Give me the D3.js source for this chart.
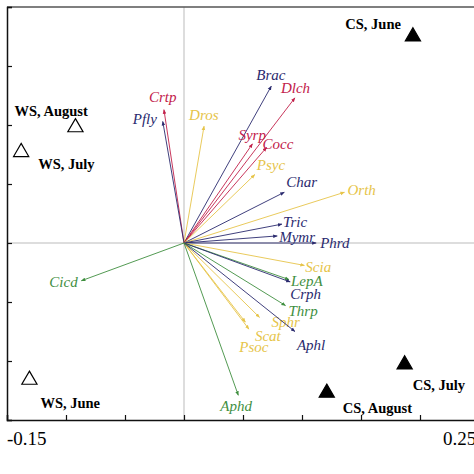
<!DOCTYPE html>
<html><head><meta charset="utf-8">
<script src="https://cdn.jsdelivr.net/npm/d3@7"></script>
<style>body{margin:0;background:#fff}svg{display:block}</style>
</head><body>
<svg id="chart" width="474" height="474"></svg>
<script>
// taxa vectors (axis 1, axis 2)
var taxa = ['Crtp','Pfly','Dros','Brac','Dlch','Syrp','Cocc','Psyc','Char','Orth','Tric','Mymr','Phrd',
  'Scia','LepA','Crph','Thrp','Sphr','Scat','Psoc','Aphl','Aphd','Cicd'];
var ax1 = [-0.017,-0.018,0.017,0.074,0.094,0.058,0.070,0.060,0.085,0.136,0.083,0.079,0.112,
  0.102,0.089,0.090,0.086,0.064,0.055,0.052,0.094,0.046,-0.087];
var ax2 = [0.113,0.103,0.099,0.133,0.123,0.084,0.081,0.058,0.043,0.043,0.016,0.006,0.000,
  -0.019,-0.031,-0.033,-0.053,-0.063,-0.073,-0.067,-0.075,-0.129,-0.032];
var group = ['r','n','y','n','r','r','r','y','n','y','n','n','n','y','g','n','g','y','y','y','n','g','g'];

// sites
var sites = ['CS, June','WS, August','WS, July','WS, June','CS, July','CS, August'];
var siteX = [0.194,-0.092,-0.138,-0.131,0.187,0.121];
var siteY = [0.175,0.098,0.077,-0.116,-0.103,-0.127];
var siteFilled = [true,false,false,false,true,true];

var colors = {n:'#2a2a6e', r:'#c2204a', y:'#e6c449', g:'#3f8f3f'};
var labelOff = {Crtp:[-15,-8],Pfly:[-30,3],Dros:[-15,-6],Brac:[-15,-6],Dlch:[-14,-5],Syrp:[-14,-4],
  Cocc:[-4,2],Psyc:[2,-5],Char:[2,-5],Orth:[3,3],Tric:[1,3],Mymr:[2,6],Phrd:[4,5],Scia:[1,7],
  LepA:[2,6],Crph:[0,17],Thrp:[3,10],Sphr:[12,10],Scat:[6,12],Psoc:[-6,30],Aphl:[2,18],Aphd:[-18,16],Cicd:[-32,6]};
var siteOff = {'CS, June':[-12,-8,'end'],'WS, August':[-61,-11,'start'],'WS, July':[17,17,'start'],
  'WS, June':[11,28,'start'],'CS, July':[8,25,'start'],'CS, August':[16,20,'start']};

var svg = d3.select('#chart');
var x = d3.scaleLinear().domain([-0.15,0.25]).range([7,479]);
var y = d3.scaleLinear().domain([-0.15,0.2]).range([420,7]);

svg.append('defs').selectAll('marker').data(Object.keys(colors)).join('marker')
  .attr('id', function (d) { return 'ah' + d; })
  .attr('viewBox','0 0 10 10').attr('refX',9).attr('refY',5)
  .attr('markerWidth',5).attr('markerHeight',5).attr('orient','auto')
  .append('path').attr('d','M0,1L10,5L0,9z').attr('fill', function (d) { return colors[d]; });

// zero lines
svg.append('line').attr('x1',x(0)).attr('x2',x(0)).attr('y1',7).attr('y2',420).attr('stroke','#bbb');
svg.append('line').attr('x1',7).attr('x2',474).attr('y1',y(0)).attr('y2',y(0)).attr('stroke','#bbb');

// frame
svg.append('line').attr('x1',7).attr('x2',474).attr('y1',7).attr('y2',7).attr('stroke','#555').attr('stroke-width',1.5);
svg.append('g').attr('transform','translate(0,420)')
  .call(d3.axisBottom(x).tickValues(d3.range(-0.15,0.251,0.05)).tickSize(-5).tickFormat(''))
  .call(function (g) { g.select('.domain').attr('stroke','#111').attr('stroke-width',1.5); });
svg.append('g').attr('transform','translate(7,0)')
  .call(d3.axisLeft(y).tickValues(d3.range(-0.15,0.201,0.05)).tickSize(-5).tickFormat(''))
  .call(function (g) { g.select('.domain').attr('stroke','#111').attr('stroke-width',1.5); });
svg.selectAll('.tick line').attr('stroke','#111').attr('stroke-width',1.2);

svg.append('text').attr('x',7).attr('y',445).attr('font-family','Liberation Serif').attr('font-size',19).text('-0.15');
svg.append('text').attr('x',443).attr('y',445).attr('font-family','Liberation Serif').attr('font-size',19).text('0.25');

// arrows
var arr = svg.append('g');
taxa.forEach(function (t, i) {
  arr.append('line').attr('x1',x(0)).attr('y1',y(0)).attr('x2',x(ax1[i])).attr('y2',y(ax2[i]))
    .attr('stroke',colors[group[i]]).attr('stroke-width',0.9)
    .attr('marker-end','url(#ah' + group[i] + ')');
  arr.append('text').attr('x',x(ax1[i]) + labelOff[t][0]).attr('y',y(ax2[i]) + labelOff[t][1])
    .attr('font-family','Liberation Serif').attr('font-style','italic').attr('font-size',15)
    .attr('fill',colors[group[i]]).text(t);
});

// sites
var tri = d3.symbol().type(d3.symbolTriangle).size(100);
sites.forEach(function (s, i) {
  svg.append('path').attr('d',tri).attr('transform','translate(' + x(siteX[i]) + ',' + y(siteY[i]) + ')')
    .attr('fill', siteFilled[i] ? '#000' : '#fff').attr('stroke','#000').attr('stroke-width',1.2);
  var o = siteOff[s];
  svg.append('text').attr('x',x(siteX[i]) + o[0]).attr('y',y(siteY[i]) + o[1]).attr('text-anchor',o[2])
    .attr('font-family','Liberation Serif').attr('font-weight','bold').attr('font-size',14.5).text(s);
});
</script>
</body></html>
